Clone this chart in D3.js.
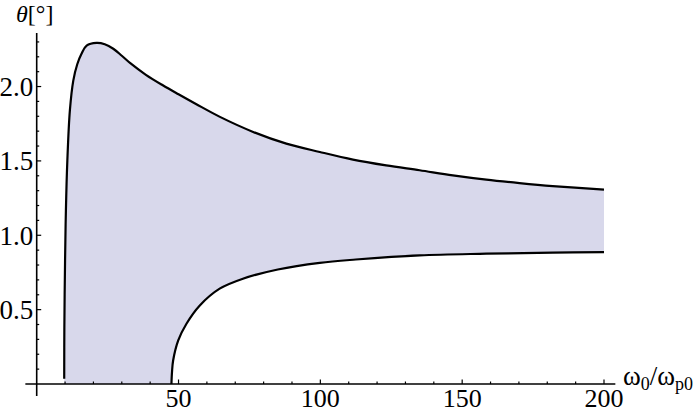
<!DOCTYPE html>
<html>
<head>
<meta charset="utf-8">
<script src="https://cdn.jsdelivr.net/npm/d3@7"></script>
<style>
  body { margin: 0; background: #fff; }
  text { font-family: "Liberation Serif", "DejaVu Serif", serif; fill: #000; }
</style>
</head>
<body>
<div id="chart-area"></div>
<script>
// upper branch of the curve (omega0/omegap0, theta in degrees)
const upperX = [9.7, 9.75, 10.0, 10.3, 10.8, 11.7, 12.9, 14.3, 15.8, 17.6, 21.1, 24.0, 27.0, 30.0, 33.0, 38.5, 44.6, 50.0, 56.3, 64.6, 76.3, 88.0, 99.8, 111.5, 123.2, 135.0, 146.7, 158.5, 170.2, 181.9, 200];
const upperY = [0.035, 0.38, 0.83, 1.17, 1.50, 1.84, 2.04, 2.15, 2.22, 2.275, 2.293, 2.284, 2.254, 2.207, 2.157, 2.079, 2.007, 1.948, 1.881, 1.796, 1.695, 1.616, 1.560, 1.509, 1.470, 1.437, 1.403, 1.374, 1.351, 1.331, 1.307];

// lower branch
const lowerX = [47.5, 47.7, 48.1, 49.9, 52.8, 57.5, 64.5, 72.7, 85.0, 99.8, 112.5, 135.0, 158.5, 181.9, 200];
const lowerY = [0, 0.08, 0.158, 0.293, 0.405, 0.528, 0.641, 0.708, 0.770, 0.815, 0.837, 0.865, 0.876, 0.883, 0.887];

const xTicks = [50, 100, 150, 200];
const xMinor = d3.range(10, 201, 10).filter(v => v % 50 !== 0);
const yTicks = [0.5, 1.0, 1.5, 2.0];
const yMinor = d3.range(1, 24).map(v => v / 10).filter(v => Math.round(v * 10) % 5 !== 0);

const W = 700, H = 413;

const svg = d3.select("#chart-area").append("svg")
  .attr("width", W)
  .attr("height", H);

const x = d3.scaleLinear().domain([0, 200]).range([36.7, 604]);
const y = d3.scaleLinear().domain([0, 2.36]).range([384, 33]);

const upper = upperX.map((v, i) => [v, upperY[i]]);
const lower = lowerX.map((v, i) => [v, lowerY[i]]);

const line = d3.line()
  .x(d => x(d[0]))
  .y(d => y(d[1]))
  .curve(d3.curveCatmullRom.alpha(0.5));

// filled region between the branches (down to the axis left of the lower branch)
const lowerBack = lower.slice().reverse();
const fillPath = line(upper)
  + line(lowerBack).replace(/^M/, "L")
  + `L${x(upperX[0])},${y(0)}Z`;

svg.append("path")
  .attr("d", fillPath)
  .attr("fill", "#d8d8eb")
  .attr("stroke", "none");

// axes
const gx = svg.append("g").attr("transform", `translate(0,${y(0)})`);
gx.append("line")
  .attr("x1", x(-4)).attr("x2", x(204))
  .attr("stroke", "#000").attr("stroke-width", 1.6);

gx.selectAll(".minor").data(xMinor).enter().append("line")
  .attr("x1", d => x(d)).attr("x2", d => x(d))
  .attr("y1", 0).attr("y2", -2.5)
  .attr("stroke", "#000").attr("stroke-width", 1.2);

gx.selectAll(".major").data(xTicks).enter().append("line")
  .attr("x1", d => x(d)).attr("x2", d => x(d))
  .attr("y1", 0).attr("y2", -4.5)
  .attr("stroke", "#000").attr("stroke-width", 1.2);

gx.selectAll(".lbl").data(xTicks).enter().append("text")
  .attr("x", d => x(d))
  .attr("y", 22.5)
  .attr("text-anchor", "middle")
  .style("font-size", "26px")
  .text(d => d);

const gy = svg.append("g").attr("transform", `translate(${x(0)},0)`);
gy.append("line")
  .attr("y1", y(-0.08)).attr("y2", y(2.36))
  .attr("stroke", "#000").attr("stroke-width", 1.6);

gy.selectAll(".minor").data(yMinor).enter().append("line")
  .attr("y1", d => y(d)).attr("y2", d => y(d))
  .attr("x1", 0).attr("x2", 2.5)
  .attr("stroke", "#000").attr("stroke-width", 1.2);

gy.selectAll(".major").data(yTicks).enter().append("line")
  .attr("y1", d => y(d)).attr("y2", d => y(d))
  .attr("x1", 0).attr("x2", 4.5)
  .attr("stroke", "#000").attr("stroke-width", 1.2);

gy.selectAll(".lbl").data(yTicks).enter().append("text")
  .attr("x", -3.5)
  .attr("y", d => y(d))
  .attr("dy", "0.35em")
  .attr("text-anchor", "end")
  .style("font-size", "27px")
  .text(d => d.toFixed(1));

// curves
svg.append("path")
  .attr("d", line(upper))
  .attr("fill", "none")
  .attr("stroke", "#000")
  .attr("stroke-width", 2.2);

svg.append("path")
  .attr("d", line(lower))
  .attr("fill", "none")
  .attr("stroke", "#000")
  .attr("stroke-width", 2.2);

// axis labels
const ty = svg.append("text")
  .attr("x", 16)
  .attr("y", 22)
  .style("font-size", "24px");
ty.append("tspan").style("font-style", "italic").text("θ");
ty.append("tspan").text("[°]");

const tx = svg.append("text")
  .attr("x", 623)
  .attr("y", 385)
  .style("font-size", "27px");
tx.append("tspan").text("ω");
tx.append("tspan").attr("dy", 5).style("font-size", "18px").text("0");
tx.append("tspan").attr("dy", -5).text("/ω");
tx.append("tspan").attr("dy", 5).style("font-size", "18px").text("p0");
</script>
</body>
</html>
